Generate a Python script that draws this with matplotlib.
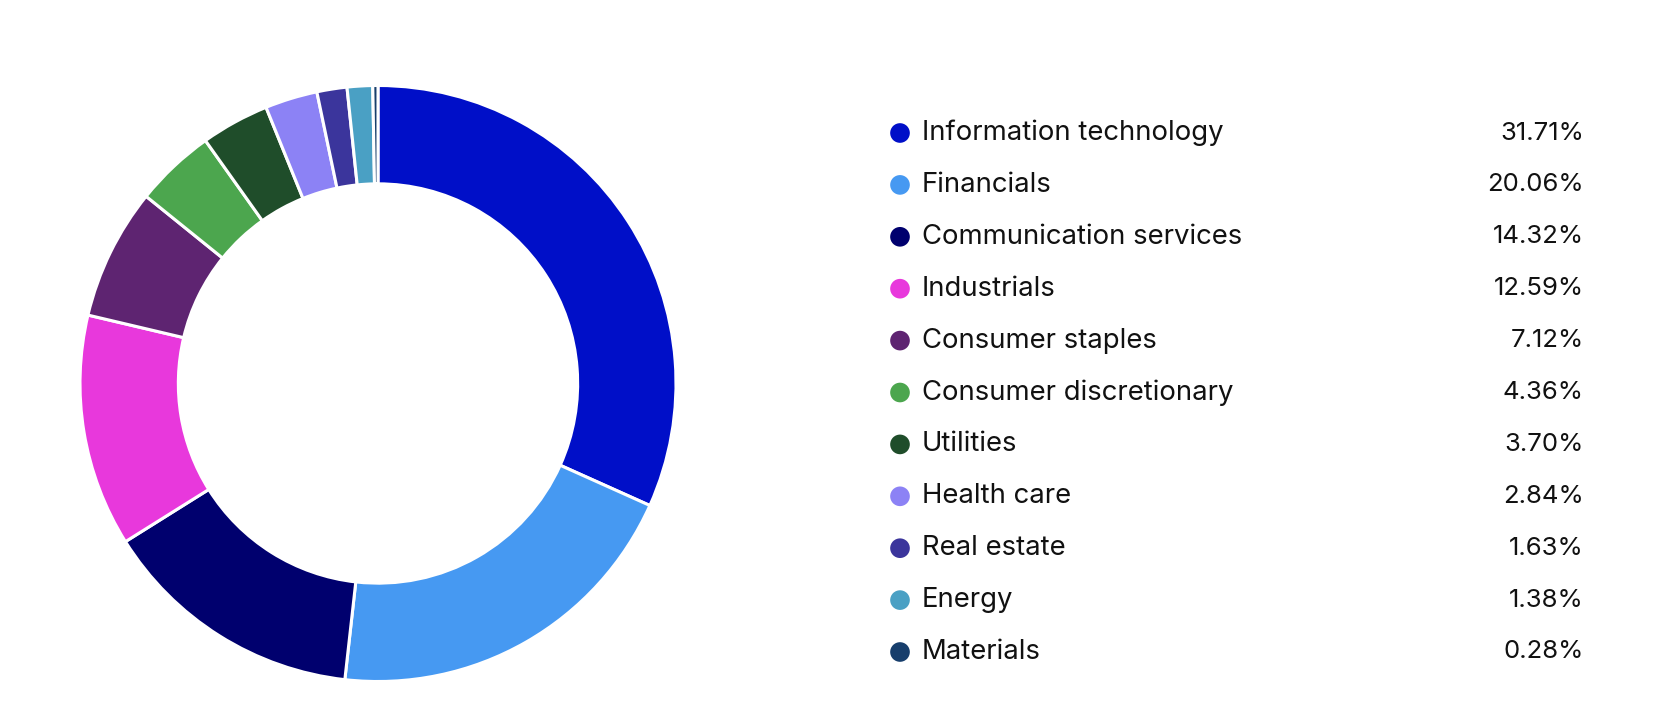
import matplotlib
matplotlib.use("Agg")
import matplotlib.pyplot as plt

categories = ["Information technology", "Financials", "Communication services", "Industrials",
              "Consumer staples", "Consumer discretionary", "Utilities", "Health care",
              "Real estate", "Energy", "Materials"]
values = [31.71, 20.06, 14.32, 12.59, 7.12, 4.36, 3.70, 2.84, 1.63, 1.38, 0.28]
labels = ["31.71%", "20.06%", "14.32%", "12.59%", "7.12%", "4.36%", "3.70%", "2.84%",
          "1.63%", "1.38%", "0.28%"]
colors = ["#000FC8", "#4699F2", "#00006E", "#E838DC", "#5E2471", "#4CA64E", "#1F4D2A",
          "#8C82F5", "#3B359C", "#4AA0C4", "#173E6C"]

plt.rcParams['font.family'] = ['Inter', 'DejaVu Sans']

W, H = 1656, 707
fig = plt.figure(figsize=(W / 100, H / 100), dpi=100)

cx, cy, R = 378, 383.5, 298
ax = fig.add_axes([(cx - R) / W, (H - cy - R) / H, 2 * R / W, 2 * R / H])
ax.pie(values, colors=colors, startangle=90, counterclock=False, radius=1,
       wedgeprops=dict(width=0.33, edgecolor="white", linewidth=2.2, joinstyle="round"))
ax.set_xlim(-1, 1)
ax.set_ylim(-1, 1)
ax.set_aspect("equal")
ax.axis("off")

lax = fig.add_axes([0, 0, 1, 1])
lax.set_xlim(0, W)
lax.set_ylim(H, 0)
lax.axis("off")
y0, dy = 133, 51.9
for i, (cat, lab, col) in enumerate(zip(categories, labels, colors)):
    y = y0 + i * dy
    lax.scatter([900], [y], s=200, color=col, edgecolors="none")
    lax.text(922, y, cat, fontsize=19.8, va="center", ha="left", color="#111111")
    lax.text(1584, y, lab, fontsize=18.5, va="center", ha="right", color="#111111")

fig.savefig("out.png", dpi=100, facecolor="white")
